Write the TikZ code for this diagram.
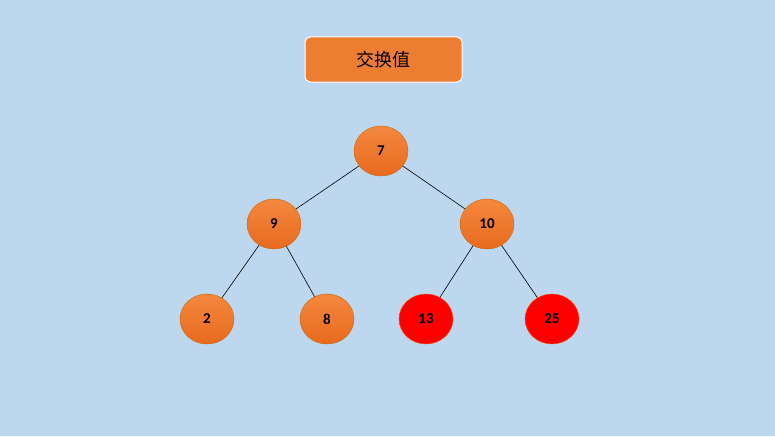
\documentclass[tikz,border=0pt]{standalone}
\usepackage{fontspec}
\newfontfamily\cjk{Noto Sans CJK SC}
\setmainfont{Carlito}
\usetikzlibrary{shapes.geometric}
\begin{document}
\begin{tikzpicture}[x=1pt,y=-1pt,
  nd/.style={ellipse,minimum width=54pt,minimum height=50pt,inner sep=0pt,draw=orange!80!black,line width=0.4pt,top color=orange1,bottom color=orange2,font=\bfseries\fontsize{15}{18}\selectfont},
  rd/.style={nd,top color=red,bottom color=red,draw=orange!60!red},
  ed/.style={black,line width=0.6pt}]
\definecolor{bg}{HTML}{BDD7EE}
\definecolor{orange1}{HTML}{F4883F}
\definecolor{orange2}{HTML}{E86A1E}
\definecolor{tb}{HTML}{ED7D31}
\fill[bg] (0,0) rectangle (775,436);
\useasboundingbox (0,0) rectangle (775,436);
\node[draw=white,line width=1pt,fill=tb,rounded corners=5pt,minimum width=157pt,minimum height=45pt,font=\cjk\fontsize{18}{22}\selectfont] (t) at (383.5,59.5) {交换值};
\node[nd] (n7) at (381,151) {7};
\node[nd] (n9) at (274,224) {9};
\node[nd] (n10) at (487,224) {10};
\node[nd] (n2) at (207,319) {2};
\node[nd] (n8) at (327,319) {8};
\node[rd] (n13) at (426,319) {13};
\node[rd] (n25) at (552,319) {25};
\draw[ed] (n7)--(n9); \draw[ed] (n7)--(n10);
\draw[ed] (n9)--(n2); \draw[ed] (n9)--(n8);
\draw[ed] (n10)--(n13); \draw[ed] (n10)--(n25);
\end{tikzpicture}
\end{document}
